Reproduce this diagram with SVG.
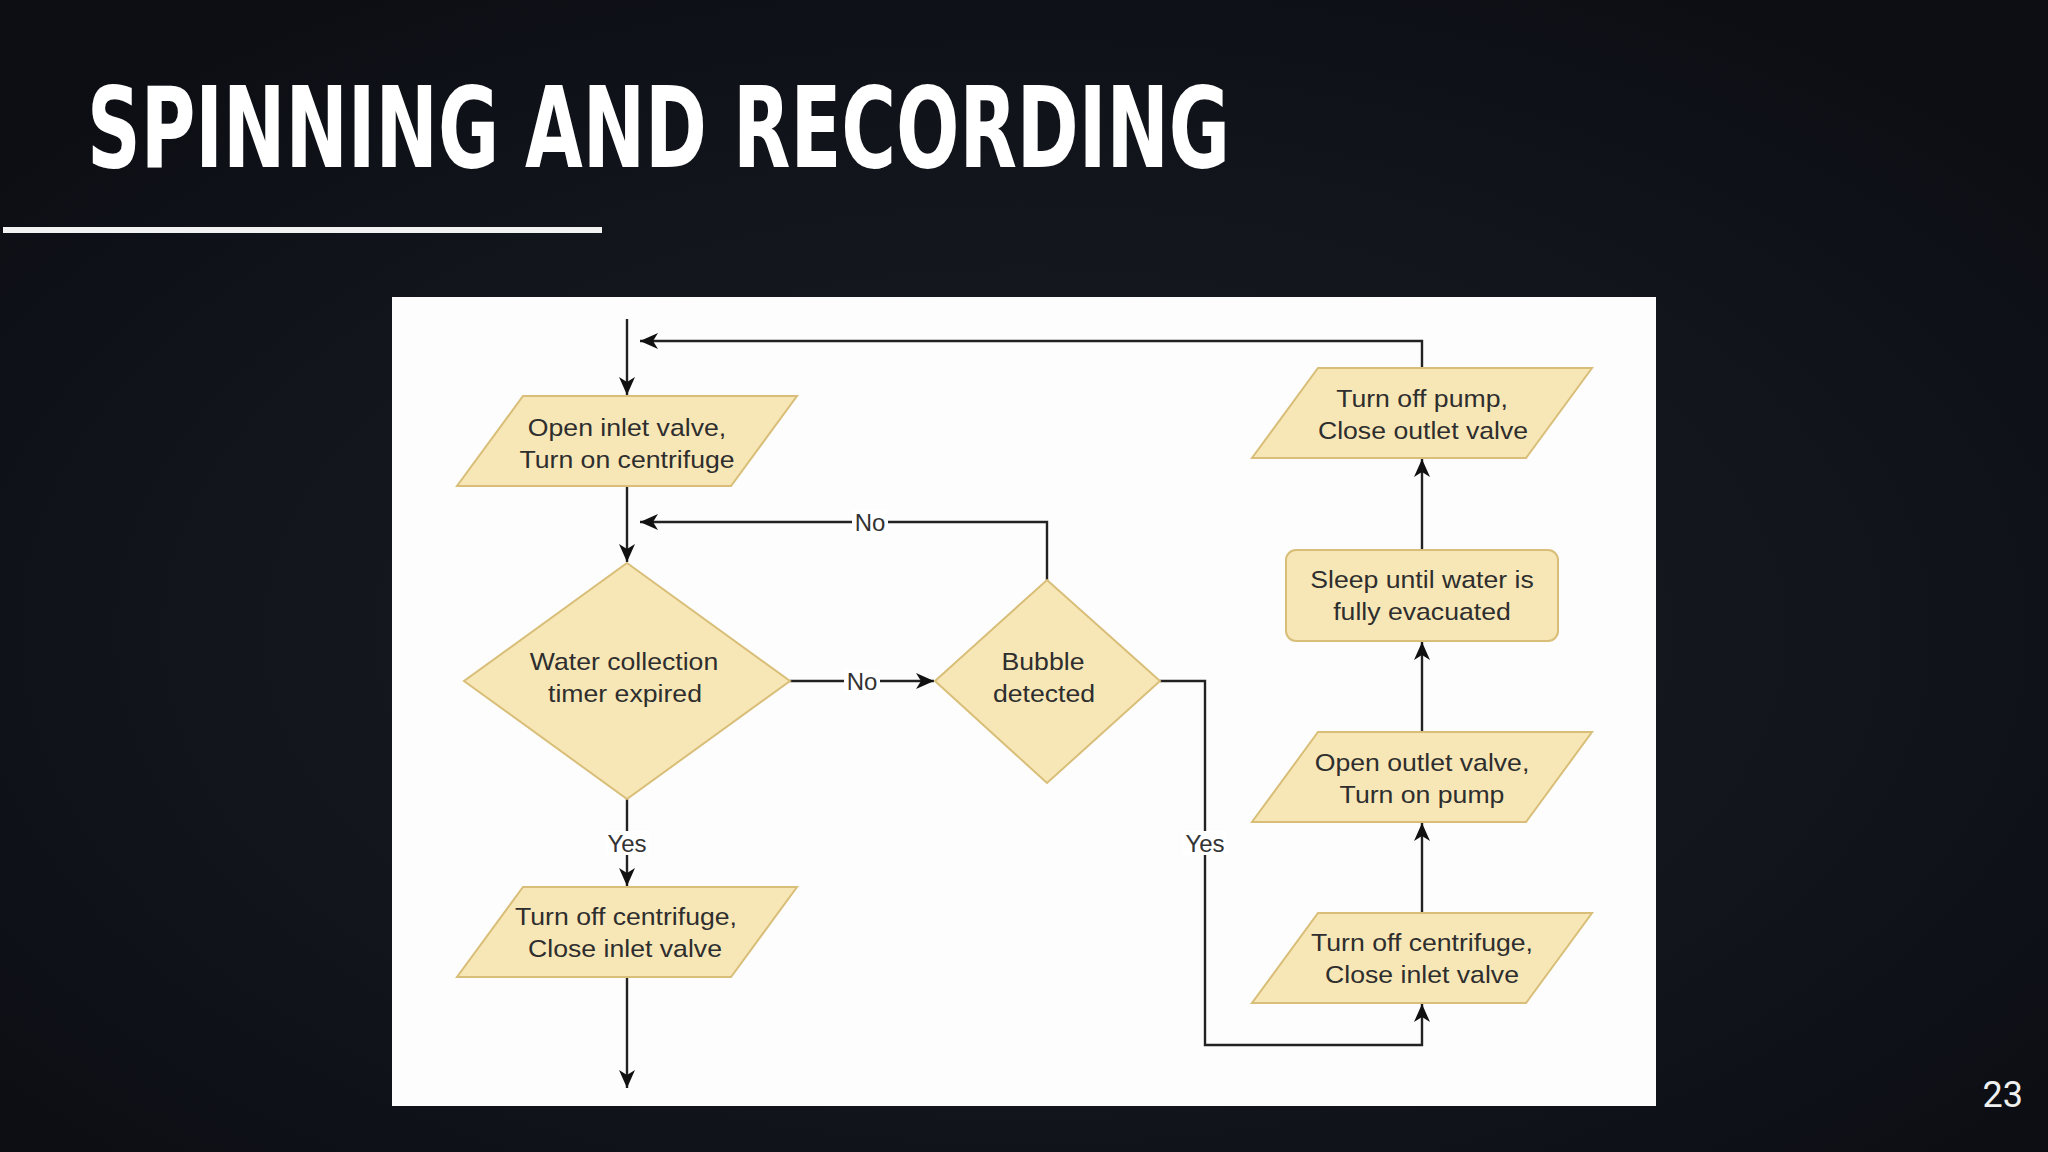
<svg xmlns="http://www.w3.org/2000/svg" width="2048" height="1152" viewBox="0 0 2048 1152">
  <defs>
    <radialGradient id="bg" cx="50%" cy="55%" r="65%">
      <stop offset="0" stop-color="#1a1e26"/>
      <stop offset="0.6" stop-color="#12151c"/>
      <stop offset="1" stop-color="#0c0e14"/>
    </radialGradient>
    <marker id="arr" markerUnits="userSpaceOnUse" markerWidth="20" markerHeight="18" refX="18" refY="8" orient="auto">
      <path d="M0,0 L18,8 L0,16 L5,8 Z" fill="#111111"/>
    </marker>
    <style>
      .shape { fill: #F8E7B6; stroke: #D8BE78; stroke-width: 2; }
      .txt { font-family: "Liberation Sans", Arial, sans-serif; font-size: 24px; fill: #2e2e2e; text-anchor: middle; }
      .lbl { font-family: "Liberation Sans", Arial, sans-serif; font-size: 24px; fill: #333333; text-anchor: middle; }
      .conn path { fill: none; stroke: #222222; stroke-width: 2.4; }
      .lblbg { fill: #ffffff; }
    </style>
  </defs>

  <rect x="0" y="0" width="2048" height="1152" fill="url(#bg)"/>

  <g id="title">
    <text x="87" y="167" font-family="'Liberation Sans Narrow', 'DejaVu Sans Condensed', 'DejaVu Sans', sans-serif" font-weight="bold" font-size="112" fill="#ffffff" textLength="1143" lengthAdjust="spacingAndGlyphs">SPINNING AND RECORDING</text>
    <rect x="3" y="227" width="599" height="6" fill="#f2f2f2"/>
  </g>

  <g id="panel">
    <rect x="392" y="297" width="1264" height="809" fill="#fdfdfd"/>
  </g>

  <g id="connectors" class="conn">
    <path d="M627,319 V395" marker-end="url(#arr)"/>
    <path d="M1422,368 V341 H640" marker-end="url(#arr)"/>
    <path d="M627,486 V562" marker-end="url(#arr)"/>
    <path d="M1047,580 V522 H640" marker-end="url(#arr)"/>
    <path d="M790,681 H934" marker-end="url(#arr)"/>
    <path d="M627,799 V886" marker-end="url(#arr)"/>
    <path d="M627,977 V1088" marker-end="url(#arr)"/>
    <path d="M1160,681 H1205 V1045 H1422 V1004" marker-end="url(#arr)"/>
    <path d="M1422,913 V823" marker-end="url(#arr)"/>
    <path d="M1422,732 V642" marker-end="url(#arr)"/>
    <path d="M1422,550 V459" marker-end="url(#arr)"/>
    <rect class="lblbg" x="852" y="510" width="36" height="24"/>
    <text class="lbl" x="870" y="531">No</text>
    <rect class="lblbg" x="844" y="669" width="36" height="24"/>
    <text class="lbl" x="862" y="690">No</text>
    <rect class="lblbg" x="605" y="831" width="44" height="24"/>
    <text class="lbl" x="627" y="852">Yes</text>
    <rect class="lblbg" x="1183" y="831" width="44" height="24"/>
    <text class="lbl" x="1205" y="852">Yes</text>
  </g>

  <g id="node-open-inlet">
    <polygon class="shape" points="523,396 797,396 731,486 457,486"/>
    <text class="txt" transform="translate(627 0) scale(1.11 1)" x="0" y="436">Open inlet valve,</text>
    <text class="txt" transform="translate(627 0) scale(1.11 1)" x="0" y="468">Turn on centrifuge</text>
  </g>

  <g id="node-timer">
    <polygon class="shape" points="627,563 790,681 627,799 464,681"/>
    <text class="txt" transform="translate(624 0) scale(1.11 1)" x="0" y="670">Water collection</text>
    <text class="txt" transform="translate(625 0) scale(1.11 1)" x="0" y="702">timer expired</text>
  </g>

  <g id="node-bubble">
    <polygon class="shape" points="1047,580 1160,681 1047,783 935,681"/>
    <text class="txt" transform="translate(1043 0) scale(1.11 1)" x="0" y="670">Bubble</text>
    <text class="txt" transform="translate(1044 0) scale(1.11 1)" x="0" y="702">detected</text>
  </g>

  <g id="node-left-off">
    <polygon class="shape" points="523,887 797,887 731,977 457,977"/>
    <text class="txt" transform="translate(626 0) scale(1.11 1)" x="0" y="925">Turn off centrifuge,</text>
    <text class="txt" transform="translate(625 0) scale(1.11 1)" x="0" y="957">Close inlet valve</text>
  </g>

  <g id="node-pump-off">
    <polygon class="shape" points="1318,368 1592,368 1526,458 1252,458"/>
    <text class="txt" transform="translate(1422 0) scale(1.11 1)" x="0" y="407">Turn off pump,</text>
    <text class="txt" transform="translate(1423 0) scale(1.11 1)" x="0" y="439">Close outlet valve</text>
  </g>

  <g id="node-sleep">
    <rect class="shape" x="1286" y="550" width="272" height="91" rx="10" ry="10"/>
    <text class="txt" transform="translate(1422 0) scale(1.11 1)" x="0" y="588">Sleep until water is</text>
    <text class="txt" transform="translate(1422 0) scale(1.11 1)" x="0" y="620">fully evacuated</text>
  </g>

  <g id="node-open-outlet">
    <polygon class="shape" points="1318,732 1592,732 1526,822 1252,822"/>
    <text class="txt" transform="translate(1422 0) scale(1.11 1)" x="0" y="771">Open outlet valve,</text>
    <text class="txt" transform="translate(1422 0) scale(1.11 1)" x="0" y="803">Turn on pump</text>
  </g>

  <g id="node-right-off">
    <polygon class="shape" points="1318,913 1592,913 1526,1003 1252,1003"/>
    <text class="txt" transform="translate(1422 0) scale(1.11 1)" x="0" y="951">Turn off centrifuge,</text>
    <text class="txt" transform="translate(1422 0) scale(1.11 1)" x="0" y="983">Close inlet valve</text>
  </g>

  <g id="page-number">
    <text x="2023" y="1107" font-family="Roboto, 'Liberation Sans', sans-serif" font-size="36" fill="#f0f0f0" text-anchor="end">23</text>
  </g>
</svg>
